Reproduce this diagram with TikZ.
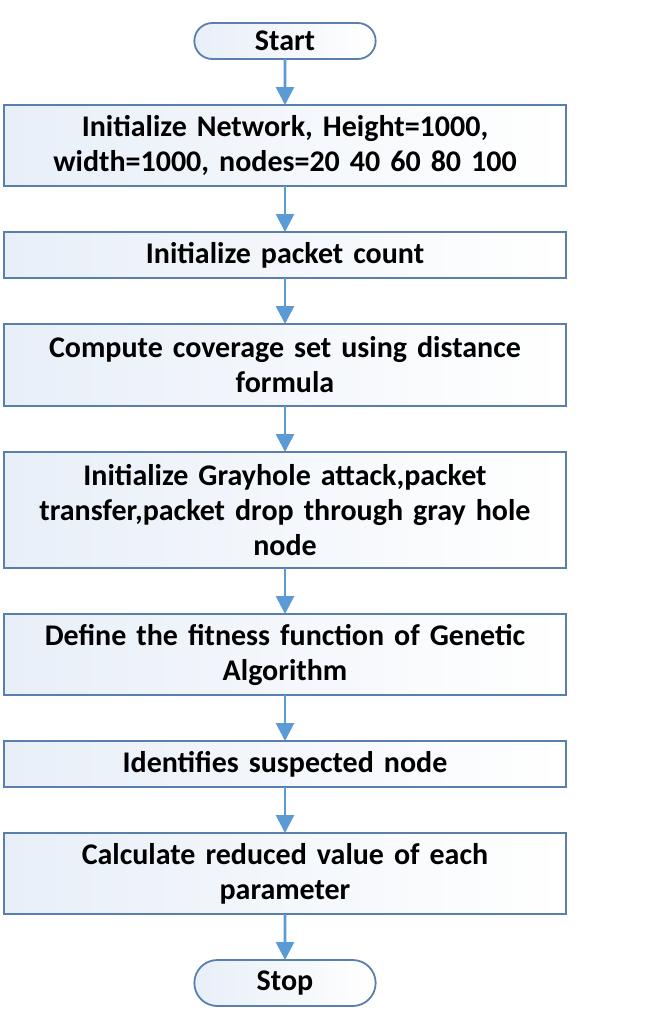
\documentclass[tikz,border=0pt]{standalone}
\usepackage{fontspec}
\setmainfont{Carlito}
\usepackage{xcolor}
\usepackage{tikz}
\usetikzlibrary{
  arrows.meta,
  positioning,
  shapes.misc
}

\definecolor{boxline}{RGB}{90,127,173}
\definecolor{flowline}{RGB}{91,155,213}
\definecolor{boxtint}{RGB}{232,239,248}

\begin{document}
\begin{tikzpicture}[
  node distance=46pt,
  every node/.style={
    font=\fontsize{30}{35}\selectfont\bfseries,
    outer sep=0pt
  },
  stepbox/.style={
    rectangle,
    draw=boxline,
    line width=2pt,
    left color=boxtint,
    right color=white,
    text width=540pt,
    align=center,
    minimum width=562pt,
    inner xsep=11pt
  },
  terminal/.style={
    rounded rectangle,
    draw=boxline,
    line width=1.8pt,
    left color=boxtint,
    right color=white,
    minimum width=188pt
  },
  flow/.style={
    draw=flowline,
    line width=2.8pt,
    -{Triangle[width=18pt,length=18pt]}
  }
]

\useasboundingbox (0,0) rectangle (656pt,-1021pt);

\node (start) [terminal, minimum height=36pt] at (285pt,-41pt) {Start};

\node (init-network) [stepbox, minimum height=81pt, below=of start]
  {Initialize Network, Height=1000,\\width=1000, nodes=20 40 60 80 100};
\node (packet-count) [stepbox, minimum height=46pt, below=of init-network]
  {Initialize packet count};
\node (coverage-set) [stepbox, minimum height=82pt, below=of packet-count]
  {Compute coverage set using distance\\formula};
\node (grayhole) [stepbox, minimum height=116pt, below=of coverage-set]
  {Initialize Grayhole attack,packet\\transfer,packet drop through gray hole\\node};
\node (fitness) [stepbox, minimum height=81pt, below=of grayhole]
  {Define the fitness function of Genetic\\Algorithm};
\node (suspected) [stepbox, minimum height=46pt, below=of fitness]
  {Identifies suspected node};
\node (reduced-value) [stepbox, minimum height=81pt, below=of suspected]
  {Calculate reduced value of each\\parameter};

\node (stop) [terminal, minimum height=46pt, below=of reduced-value] {Stop};

\foreach \from/\to in {start/init-network, init-network/packet-count,
    packet-count/coverage-set, coverage-set/grayhole, grayhole/fitness,
    fitness/suspected, suspected/reduced-value, reduced-value/stop}
  \draw[flow] (\from) -- (\to);

\end{tikzpicture}
\end{document}
